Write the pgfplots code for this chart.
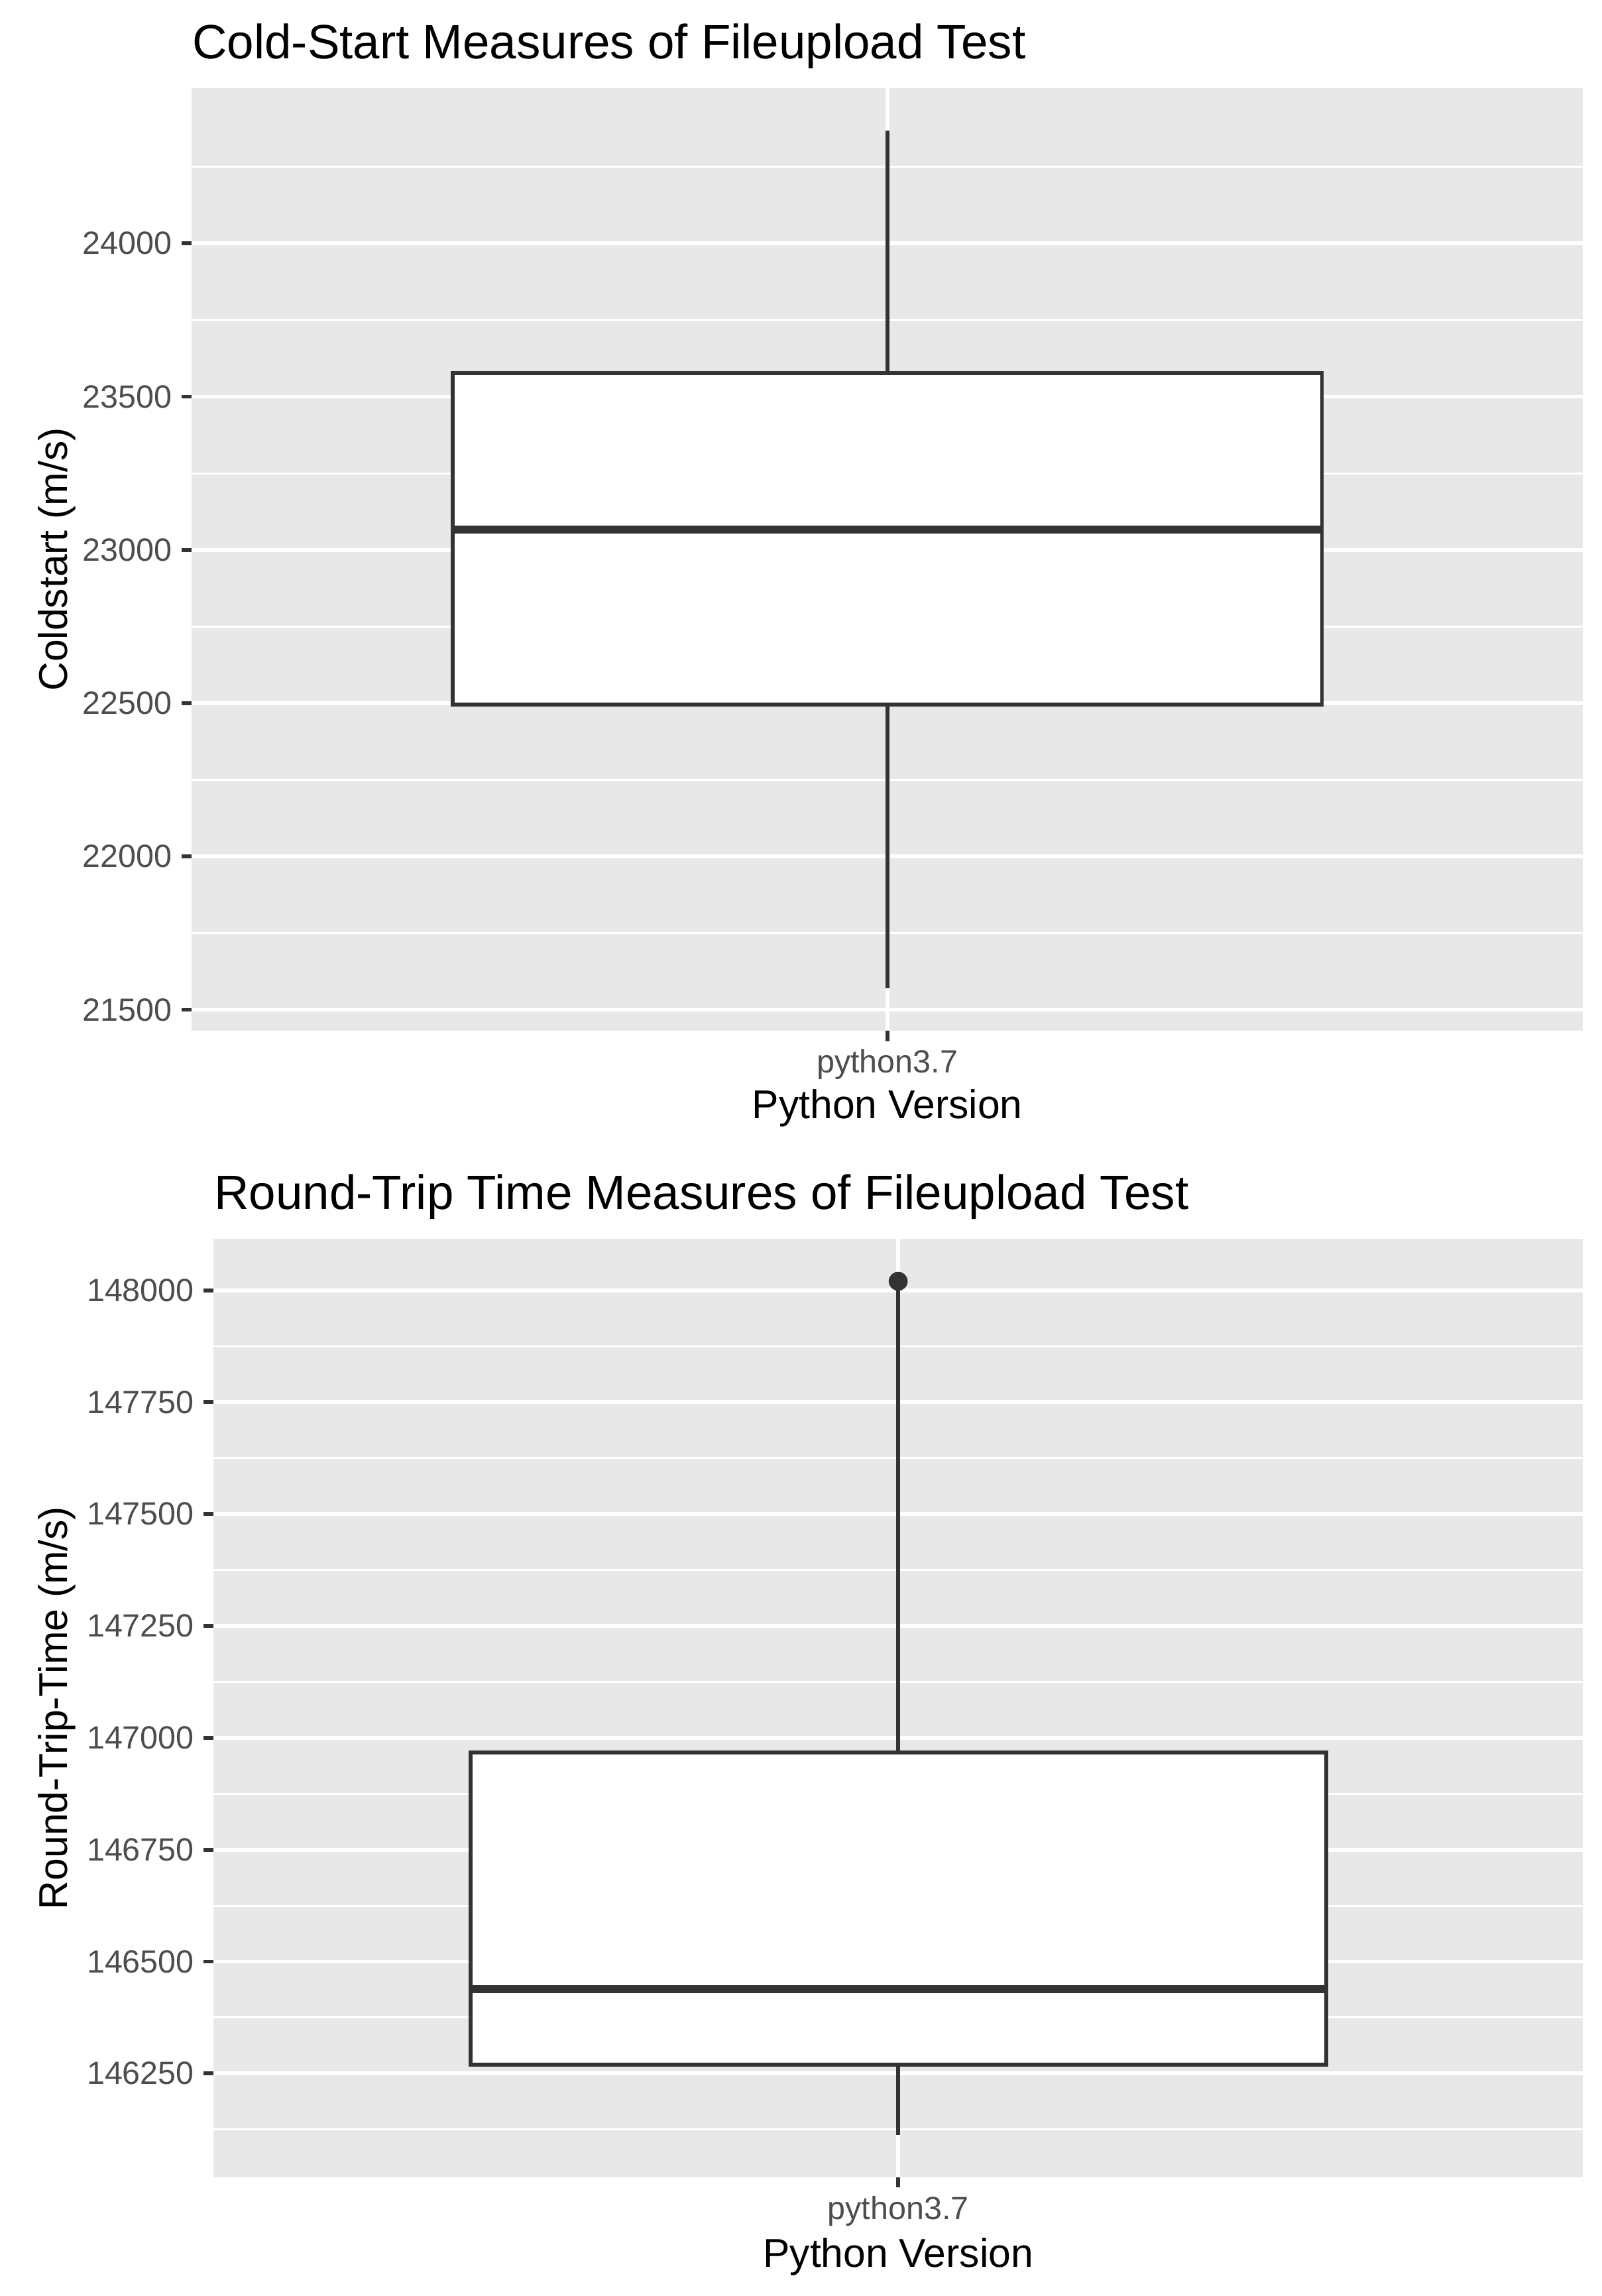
\documentclass[border=0pt]{standalone}
\usepackage{fontspec}
\setmainfont{Liberation Sans}
\usepackage{pgfplots}
\pgfplotsset{compat=1.18}

\definecolor{panelbg}{HTML}{E8E8E8}
\definecolor{gray20}{HTML}{333333}
\definecolor{gray30}{HTML}{4D4D4D}

% ggplot2 theme_grey look-alike
\pgfplotsset{
  ggbox/.style={
    scale only axis,
    axis background/.style={fill=panelbg},
    axis line style={draw=none},
    tick align=outside,
    tick pos=left,
    major tick length=2.75pt,
    minor tick length=0pt,
    tick style={gray20, line width=1.07pt},
    ymajorgrids, yminorgrids, xmajorgrids,
    major grid style={white, line width=1.07pt},
    minor grid style={white, line width=0.53pt},
    xmin=0.4, xmax=1.6,
    xtick={1}, xticklabels={python3.7},
    ticklabel style={font=\fontsize{8.8}{10}\selectfont, text=gray30},
    yticklabel style={inner sep=2.4pt, /pgf/number format/fixed,
      /pgf/number format/1000 sep={}, /pgf/number format/assume math mode=true},
    xticklabel style={inner sep=2.2pt},
    scaled y ticks=false,
    title style={at={(0,1)}, anchor=base west, yshift=2pt, inner sep=0pt,
      font=\fontsize{13.2}{15}\selectfont},
    label style={font=\fontsize{11}{13}\selectfont},
    xlabel={Python Version},
  },
  boxline/.style={draw=gray20, line width=1.07pt, mark=none},
}

% box edges: x = 1 -/+ 0.375

\begin{document}
\begin{tikzpicture}
\useasboundingbox (0,0) rectangle (438.6pt,628.7pt);

% cold-start
\begin{axis}[ggbox,
  at={(52.5pt,346.4pt)}, anchor=south west,
  width=380.9pt, height=258.2pt,
  ymin=21431, ymax=24507,
  ytick={21500,22000,22500,23000,23500,24000},
  minor ytick={21750,22250,22750,23250,23750,24250},
  title={Cold-Start Measures of Fileupload Test},
  ylabel={Coldstart (m/s)},
  ylabel style={at={(axis description cs:-0.097,0.5)}, anchor=center},
  xlabel style={at={(axis description cs:0.5,-0.082)}, anchor=center},
]
\addplot[boxline] coordinates {(1,23576) (1,24367)};
\addplot[boxline] coordinates {(1,22495) (1,21571)};
\addplot[boxline, fill=white] coordinates {(0.625,22495) (1.375,22495) (1.375,23576) (0.625,23576)} -- cycle;
\addplot[boxline, line width=2.13pt] coordinates {(0.625,23067) (1.375,23067)};
\end{axis}

% round-trip time
\begin{axis}[ggbox,
  at={(58.5pt,32.5pt)}, anchor=south west,
  width=374.9pt, height=257pt,
  ymin=146018, ymax=148115,
  ytick={146250,146500,146750,147000,147250,147500,147750,148000},
  minor ytick={146125,146375,146625,146875,147125,147375,147625,147875},
  title={Round-Trip Time Measures of Fileupload Test},
  ylabel={Round-Trip-Time (m/s)},
  ylabel style={at={(axis description cs:-0.1147,0.5)}, anchor=center},
  xlabel style={at={(axis description cs:0.5,-0.085)}, anchor=center},
]
\addplot[boxline] coordinates {(1,146967) (1,148000)};
\addplot[boxline] coordinates {(1,146270) (1,146113)};
\addplot[boxline, fill=white] coordinates {(0.625,146270) (1.375,146270) (1.375,146967) (0.625,146967)} -- cycle;
\addplot[boxline, line width=2.13pt] coordinates {(0.625,146438) (1.375,146438)};
\addplot[only marks, mark=*, mark size=2.4pt, gray20] coordinates {(1,148020)};
\end{axis}
\end{tikzpicture}
\end{document}
